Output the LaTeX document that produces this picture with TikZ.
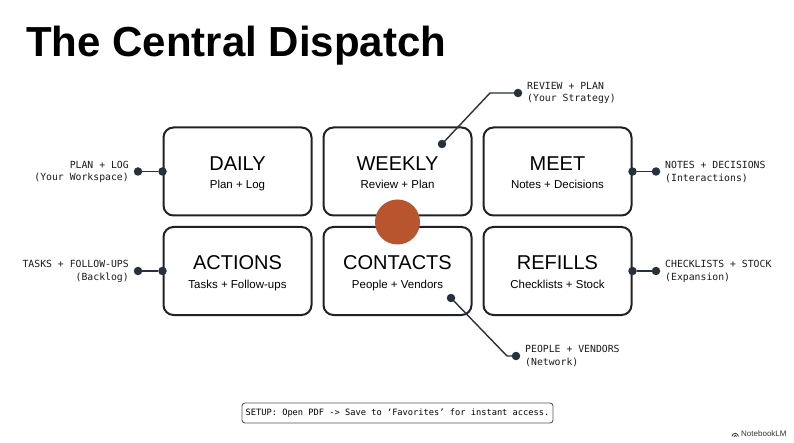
\documentclass[tikz,border=0pt]{standalone}
\usepackage{fontspec}
\setmainfont{Liberation Sans}
\newfontfamily\monof{DejaVu Sans Mono}
\definecolor{ink}{HTML}{1E2228}
\definecolor{dotc}{HTML}{26313C}
\definecolor{rust}{HTML}{B8552F}
\definecolor{lbl}{HTML}{1A1A1A}
\begin{document}
\begin{tikzpicture}[x=1pt,y=-1pt,
  card/.style={draw=ink, line width=2pt, rounded corners=10pt, minimum width=148pt, minimum height=88pt, fill=white},
  ttl/.style={font=\fontsize{20}{22}\selectfont, text=black, inner sep=0pt},
  sub/.style={font=\fontsize{11.5}{13}\selectfont, text=black, inner sep=0pt},
  dotn/.style={circle, fill=dotc, inner sep=0pt, minimum size=8.5pt},
  wire/.style={draw=dotc, line width=1.4pt},
  side/.style={font=\monof\fontsize{9.8}{12.5}\selectfont, text=lbl, inner sep=0pt}
]
\useasboundingbox (0,0) rectangle (794,443);
\fill[white] (0,0) rectangle (794,443);

% title
\node[anchor=base west, inner sep=0pt, font=\fontsize{42}{48}\selectfont\bfseries] (title) at (26,57) {The Central Dispatch};

% cards
\node[card] (daily) at (237.5,171.5) {};
\node[card] (weekly) at (397.5,171.5) {};
\node[card] (meet) at (557.5,171.5) {};
\node[card] (actions) at (237.5,271) {};
\node[card] (contacts) at (397.5,271) {};
\node[card] (refills) at (557.5,271) {};

% card texts
\foreach \n/\t/\s in {daily/DAILY/Plan + Log, weekly/WEEKLY/Review + Plan, meet/MEET/Notes + Decisions, actions/ACTIONS/Tasks + Follow-ups, contacts/CONTACTS/People + Vendors, refills/REFILLS/Checklists + Stock}{
  \node[ttl, anchor=base] (\n-t) at ([yshift=1pt]\n.center) {\t};
  \node[sub, anchor=base] (\n-s) at ([yshift=-17pt]\n.center) {\s};
}

% central orange circle
\node[circle, fill=rust, minimum size=45pt, inner sep=0pt] (hub) at (397.5,222) {};

% left connectors
\node[dotn] (dl) at (138,171.5) {};
\node[dotn] (de) at (daily.west) {};
\draw[wire] (de) -- (dl);
\node[side, anchor=east, align=right] (dlab) at (129,172) {PLAN + LOG\\(Your Workspace)};

\node[dotn] (al) at (138,271) {};
\node[dotn] (ae) at (actions.west) {};
\draw[wire] (ae) -- (al);
\node[side, anchor=east, align=right] (alab) at (129,271.5) {TASKS + FOLLOW-UPS\\(Backlog)};

% right connectors
\node[dotn] (mr) at (656,171.5) {};
\node[dotn] (me) at (meet.east) {};
\draw[wire] (me) -- (mr);
\node[side, anchor=west, align=left] (mlab) at (665,172) {NOTES + DECISIONS\\(Interactions)};

\node[dotn] (rr) at (656,271) {};
\node[dotn] (re) at (refills.east) {};
\draw[wire] (re) -- (rr);
\node[side, anchor=west, align=left] (rlab) at (665,271.5) {CHECKLISTS + STOCK\\(Expansion)};

% weekly callout
\node[dotn] (wi) at (442,144) {};
\coordinate (wk) at (490,93);
\node[dotn] (wo) at (518,93) {};
\draw[wire] (wi.center) -- (wk) -- (wo.center);
\node[side, anchor=west, align=left] (wlab) at (527,93) {REVIEW + PLAN\\(Your Strategy)};

% contacts callout
\node[dotn] (ci) at (451,298) {};
\coordinate (ck) at (507,356);
\node[dotn] (co) at (516,356) {};
\draw[wire] (ci.center) -- (ck) -- (co.center);
\node[side, anchor=west, align=left] (clab) at (525,356) {PEOPLE + VENDORS\\(Network)};

% setup box
\node[draw=ink!75, line width=0.9pt, rounded corners=3pt, minimum width=311pt, minimum height=20pt, inner sep=0pt, font=\monof\fontsize{8.7}{10}\selectfont, text=black] (setup) at (397.5,413) {SETUP: Open PDF -> Save to ‘Favorites’ for instant access.};

% watermark
\node[anchor=west, inner sep=0pt, font=\fontsize{8}{9}\selectfont, text=black!80] (nblm) at (741,434) {NotebookLM};
\draw[black!80, line width=0.8pt] ([xshift=-9pt,yshift=-2.5pt]nblm.west) arc (180:0:3.2pt) ([xshift=-6.8pt,yshift=-2.5pt]nblm.west) arc (180:0:1.2pt);
\end{tikzpicture}
\end{document}
